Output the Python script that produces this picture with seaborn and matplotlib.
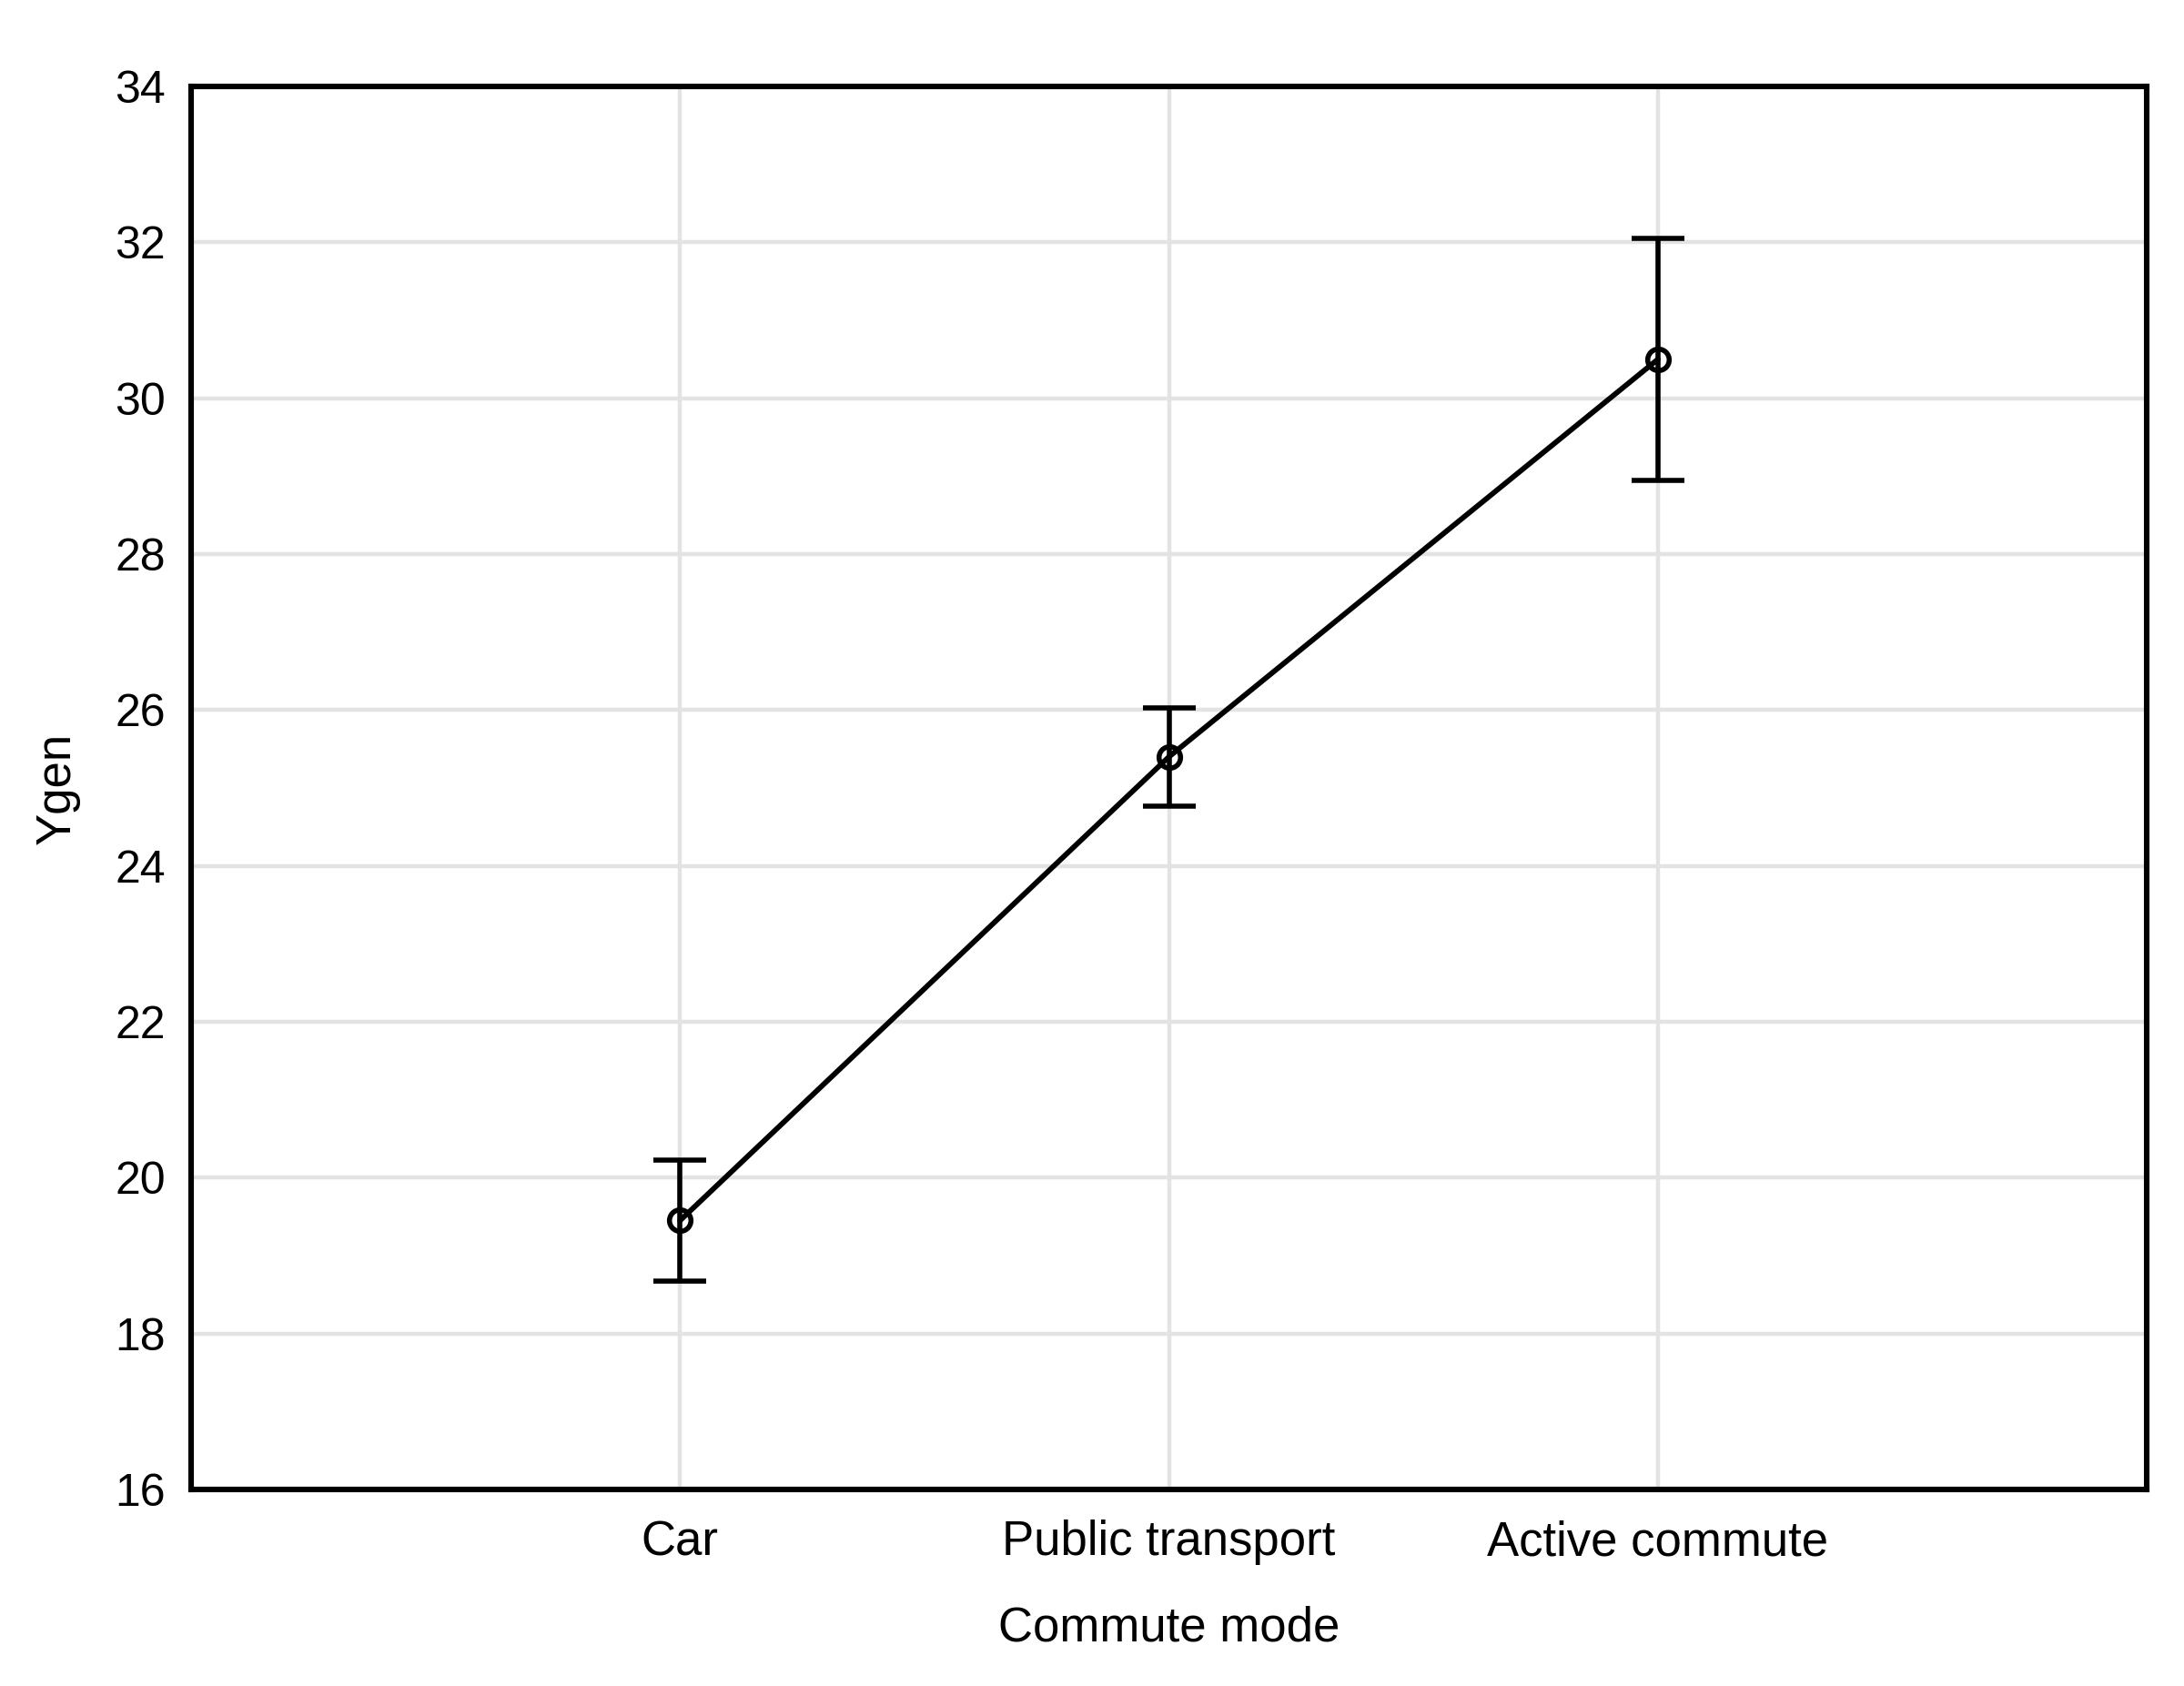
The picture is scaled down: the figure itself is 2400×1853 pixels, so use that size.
import matplotlib
matplotlib.use("Agg")
import matplotlib.pyplot as plt
import seaborn as sns
import pandas as pd

modes = ["Car", "Public transport", "Active commute"]
means = [19.45, 25.40, 30.50]
errs = [0.78, 0.63, 1.55]
yticks = [16, 18, 20, 22, 24, 26, 28, 30, 32, 34]

df = pd.DataFrame({"Commute mode": modes, "Ygen": means})

sns.set_style("white")
plt.rcParams["font.family"] = ["Liberation Sans", "DejaVu Sans"]

fig = plt.figure(figsize=(12, 9.265), dpi=200)
ax = fig.add_axes([0.0875, 0.1166, 0.8955, 0.8321])

sns.pointplot(
    data=df, x="Commute mode", y="Ygen", color="black",
    errorbar=None, markers="o", linewidth=2.1,
    markersize=8.5, markerfacecolor="none", markeredgewidth=2.0,
    ax=ax, zorder=3
)
ax.errorbar(
    range(len(modes)), means, yerr=errs, fmt="none",
    ecolor="black", elinewidth=2.0, capsize=10.5, capthick=2.0, zorder=3
)

ax.grid(True, axis="both", color="#e3e3e3", linewidth=1.6, zorder=0)
ax.set_axisbelow(True)

ax.set_xlim(-1, 3)
ax.set_ylim(16, 34)
ax.set_yticks(yticks)
ax.set_xticks(range(len(modes)))
ax.set_xticklabels(modes)

for s in ax.spines.values():
    s.set_visible(True)
    s.set_color("black")
    s.set_linewidth(2.2)

ax.tick_params(axis="both", direction="in", length=4, width=1.8,
               color="black", labelcolor="black")
ax.tick_params(axis="y", labelsize=18, pad=10)
ax.tick_params(axis="x", labelsize=19, pad=12)
ax.set_xlabel("Commute mode", fontsize=19, labelpad=16, color="black")
ax.set_ylabel("Ygen", fontsize=19, labelpad=14, color="black")

fig.savefig("out.png", dpi=200, facecolor="white")
